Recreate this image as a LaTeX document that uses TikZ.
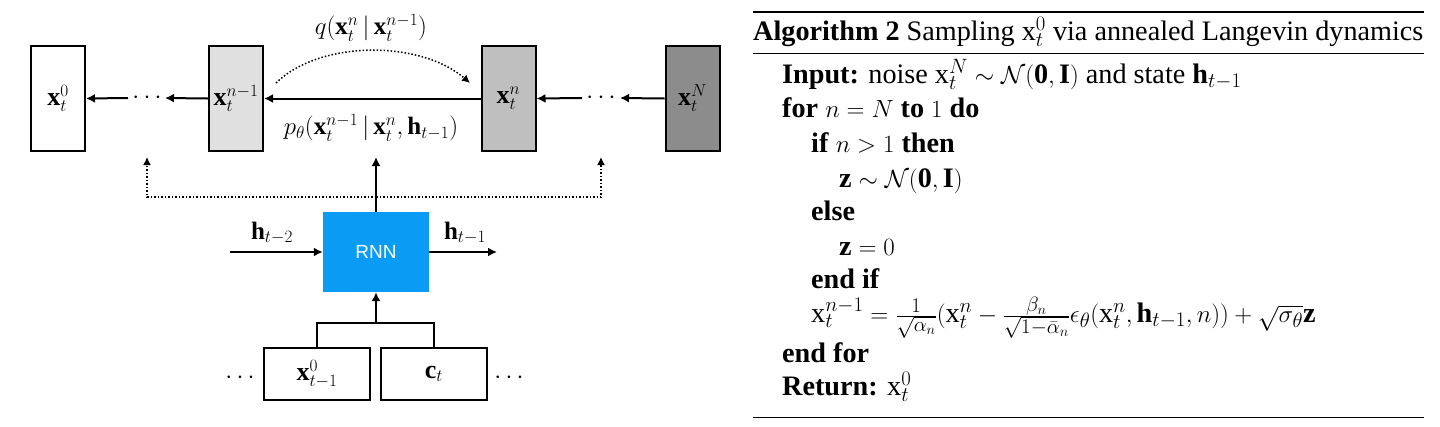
\documentclass[tikz,border=0pt]{standalone}
\usepackage{fontspec}
\setmainfont{Liberation Serif}
\newfontfamily\rnnfont{Liberation Sans}
\usetikzlibrary{arrows.meta}
\definecolor{rnnblue}{HTML}{0A9BF5}
\begin{document}
\begin{tikzpicture}[x=1pt,y=-1pt,
  box/.style={draw,line width=2pt,minimum width=54pt,minimum height=105pt,inner sep=0pt,font=\fontsize{26}{28}\selectfont},
  bbox/.style={draw,line width=2pt,minimum width=106pt,minimum height=52pt,inner sep=0pt,font=\fontsize{26}{28}\selectfont},
  arr/.style={line width=2pt,-{Latex[length=9pt,width=9pt]}},
  darr/.style={line width=1.5pt,dotted,-{Latex[length=8pt,width=8pt]}},
  lab/.style={font=\fontsize{25}{27}\selectfont,inner sep=0pt},
  alg/.style={anchor=base west,inner sep=0pt,font=\fontsize{28.2}{32}\selectfont}]
\useasboundingbox (0,0) rectangle (1440,426);
% top row
\node[box] (x0) at (58,98.5) {$\mathbf{x}_t^0$};
\node[box,fill=black!12] (xm) at (236,98.5) {$\mathbf{x}_t^{n-1}$};
\node[box,fill=black!25] (xn) at (508.5,98.5) {$\mathbf{x}_t^{n}$};
\node[box,fill=black!45] (xN) at (692.5,98.5) {$\mathbf{x}_t^{N}$};
\node[lab] (d1) at (147,98) {$\cdots$};
\node[lab] (d2) at (601,98) {$\cdots$};
\coordinate (d1w) at (128,98);
\coordinate (d1e) at (165,98);
\coordinate (d2w) at (582,98);
\coordinate (d2e) at (620,98);
\draw[arr] (d1w) -- (x0.east);
\draw[arr] (xm.west) -- (d1e);
\draw[arr] (xn.west) -- (xm.east);
\draw[arr] (d2w) -- (xn.east);
\draw[arr] (xN.west) -- (d2e);
\coordinate (qa) at (276,83);
\coordinate (qb) at (470,83);
\draw[darr] (qa) .. controls (320,40) and (420,40) .. (qb);
\node[lab] (q) at (371,28) {$q(\mathbf{x}_t^n\,|\,\mathbf{x}_t^{n-1})$};
\node[lab] (p) at (371,128) {$p_\theta(\mathbf{x}_t^{n-1}\,|\,\mathbf{x}_t^n,\mathbf{h}_{t-1})$};
% RNN
\node[fill=rnnblue,minimum width=106pt,minimum height=80pt,inner sep=0pt,text=white,font=\rnnfont\fontsize{19}{20}\selectfont] (rnn) at (376,252) {RNN};
\coordinate (up) at (376,157);
\draw[arr] (rnn.north) -- (up);
\coordinate (dl) at (147,197);
\coordinate (dr) at (601,197);
\coordinate (dlt) at (147,157);
\coordinate (drt) at (601,157);
\draw[darr] (rnn.north |- dl) -- (dl) -- (dlt);
\draw[darr] (rnn.north |- dr) -- (dr) -- (drt);
\coordinate (hin) at (230,252);
\coordinate (hout) at (497,252);
\draw[arr] (hin) -- (rnn.west);
\draw[arr] (rnn.east) -- (hout);
\node[lab] (h2) at (272,233) {$\mathbf{h}_{t-2}$};
\node[lab] (h1) at (465,233) {$\mathbf{h}_{t-1}$};
% bottom
\node[bbox] (xp) at (317,374) {$\mathbf{x}_{t-1}^0$};
\node[bbox] (ct) at (434,374) {$\mathbf{c}_t$};
\node[lab] (bd1) at (240,378) {\textbf{$\cdots$}};
\node[lab] (bd2) at (509,378) {\textbf{$\cdots$}};
\coordinate (join) at (376,323);
\draw[line width=2pt] (xp.north) -- (xp.north |- join) -- (ct.north |- join) -- (ct.north);
\draw[arr] (join) -- (rnn.south);
% algorithm
\draw[line width=2pt] (753,12) -- (1424,12);
\draw[line width=1pt] (753,53) -- (1424,53);
\draw[line width=1pt] (753,417) -- (1424,417);
\node[alg] (t0) at (753,40) {\textbf{Algorithm 2} Sampling $\mathrm{x}_t^0$ via annealed Langevin dynamics};
\node[alg] (t1) at (782,83) {\textbf{Input:} noise $\mathrm{x}_t^N\sim\mathcal{N}(\mathbf{0},\mathbf{I})$ and state $\mathbf{h}_{t-1}$};
\node[alg] (t2) at (782,117) {\textbf{for} $n=N$ \textbf{to} $1$ \textbf{do}};
\node[alg] (t3) at (811,152) {\textbf{if} $n>1$ \textbf{then}};
\node[alg] (t4) at (839,187) {$\mathbf{z}\sim\mathcal{N}(\mathbf{0},\mathbf{I})$};
\node[alg] (t5) at (811,220) {\textbf{else}};
\node[alg] (t6) at (839,255) {$\mathbf{z}=0$};
\node[alg] (t7) at (811,288) {\textbf{end if}};
\node[alg] (t8) at (811,322) {$\mathrm{x}_t^{n-1}=\frac{1}{\sqrt{\alpha_n}}(\mathrm{x}_t^n-\frac{\beta_n}{\sqrt{1-\bar\alpha_n}}\epsilon_\theta(\mathrm{x}_t^n,\mathbf{h}_{t-1},n))+\sqrt{\sigma_\theta}\mathbf{z}$};
\node[alg] (t9) at (782,362) {\textbf{end for}};
\node[alg] (t10) at (782,395) {\textbf{Return:} $\mathrm{x}_t^0$};
\end{tikzpicture}
\end{document}
